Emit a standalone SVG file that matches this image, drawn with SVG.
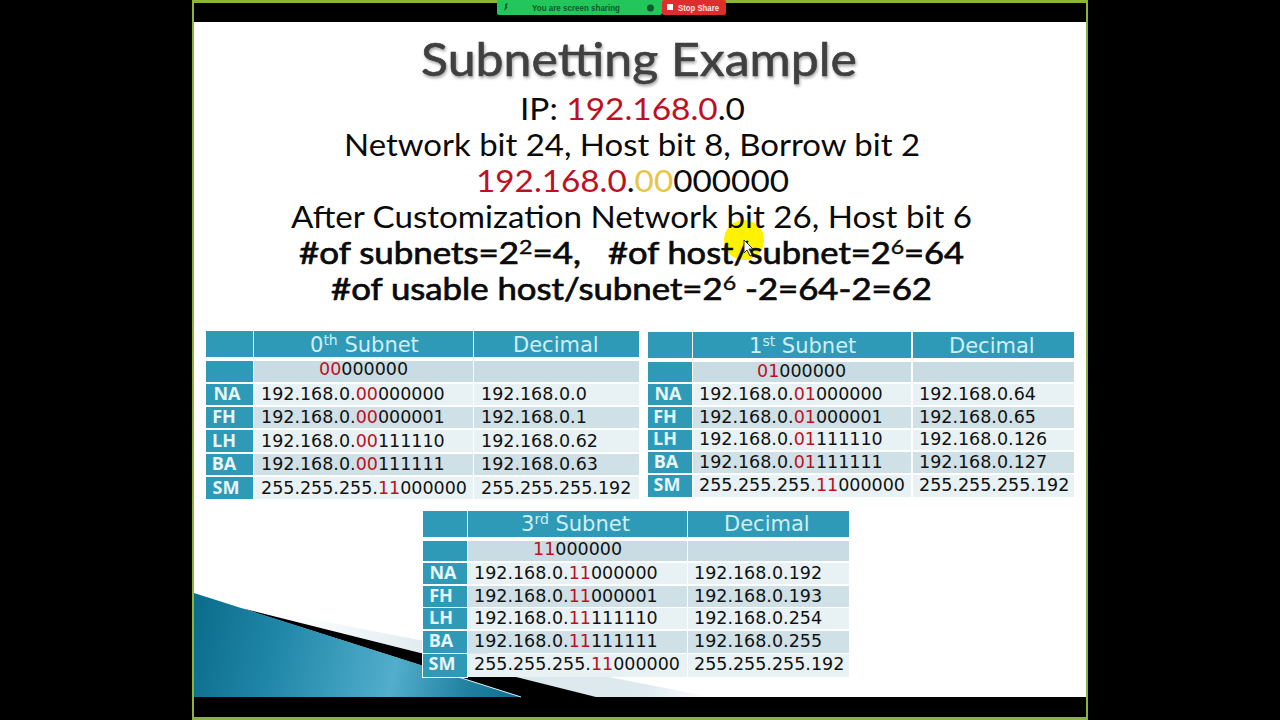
<svg xmlns="http://www.w3.org/2000/svg" width="1280" height="720" viewBox="0 0 1280 720">
<defs>
<style>
.ln{font-family:Lato,"Open Sans",sans-serif;font-size:30px;fill:#0a0a0a}
.b{stroke:#0a0a0a;stroke-width:0.7px}
.r{fill:#c00f1e}
.y{fill:#e9c546}
.hd{fill:#2f9ab8}
.s{fill:#c9dce3}
.a{fill:#e8f1f4}
.c{fill:#cfe0e6}
.t{font-family:"DejaVu Sans",sans-serif;font-size:17.5px;fill:#111}
.h{font-family:"DejaVu Sans",sans-serif;font-size:21px;fill:#cfeef5}
.l{font-family:"Open Sans","DejaVu Sans",sans-serif;font-size:18px;font-weight:700;fill:#e6f6fa;text-anchor:middle}
.sup{font-size:14px}
.sup2{font-size:20px;stroke-width:0.4px}
.z{font-family:"Liberation Sans",sans-serif;font-size:9px;font-weight:700}
</style>
<linearGradient id="blue" gradientUnits="userSpaceOnUse" x1="194" y1="620" x2="520" y2="690">
<stop offset="0" stop-color="#0c6d8c"/>
<stop offset="0.25" stop-color="#1f86a8"/>
<stop offset="0.62" stop-color="#52aecb"/>
<stop offset="0.85" stop-color="#1f7f9f"/>
<stop offset="1" stop-color="#0f6f8e"/>
</linearGradient>
<linearGradient id="pale" gradientUnits="userSpaceOnUse" x1="290" y1="620" x2="711" y2="697">
<stop offset="0" stop-color="#ffffff"/>
<stop offset="0.4" stop-color="#d9e7ec"/>
<stop offset="0.85" stop-color="#dfeaee"/>
<stop offset="1" stop-color="#ffffff"/>
</linearGradient>
<filter id="shadow" x="-5%" y="-20%" width="110%" height="150%">
<feDropShadow dx="1" dy="2" stdDeviation="1.5" flood-color="#000" flood-opacity="0.35"/>
</filter>
</defs>

<rect width="1280" height="720" fill="#000"/>
<rect x="192" y="0" width="896" height="720" fill="#8db43a"/>
<rect x="194" y="3" width="892" height="714" fill="#000"/>
<rect x="194" y="22" width="892" height="675" fill="#fff"/>

<g id="corner">
<polygon points="240,605 711,697 500,697" fill="url(#pale)"/>
<polygon points="241,608 596,697 521,697" fill="#000"/>
<polygon points="194,593 521,697 194,697" fill="url(#blue)"/>
<line x1="430" y1="668" x2="521" y2="697" stroke="#d5ebf1" stroke-width="1"/>
</g>

<g id="banner">
<rect x="497" y="0" width="165" height="15" rx="2" fill="#22c65a"/>
<rect x="662" y="0" width="64" height="15" rx="2" fill="#df2c2c"/>
<path d="M505 4 L508 3 L506.500 7 L508 7 L504 11 L505 7.500 Z" fill="#0d5a2a"/>
<text class="z" x="532" y="11" fill="#0e5a2c" textLength="88" lengthAdjust="spacingAndGlyphs">You are screen sharing</text>
<circle cx="650.500" cy="8" r="3.500" fill="#0d5a2a"/>
<rect x="667" y="4" width="6" height="6" fill="#fff"/>
<text class="z" x="678" y="11" fill="#ffe6e6" textLength="41" lengthAdjust="spacingAndGlyphs">Stop Share</text>
</g>

<g id="highlight"><circle cx="744" cy="240" r="20" fill="#fff200"/></g>

<g id="heading">
<text x="421" y="76" font-family="Lato,'Open Sans',sans-serif" font-size="46" fill="#404040" stroke="#404040" stroke-width="0.6" filter="url(#shadow)" textLength="436" lengthAdjust="spacingAndGlyphs">Subnetting Example</text>
<text class="ln" x="520" y="120" textLength="225" lengthAdjust="spacingAndGlyphs">IP: <tspan class="r">192.168.0</tspan>.0</text>
<text class="ln" x="344" y="156" textLength="576" lengthAdjust="spacingAndGlyphs">Network bit 24, Host bit 8, Borrow bit 2</text>
<text class="ln" x="476" y="192" textLength="313" lengthAdjust="spacingAndGlyphs"><tspan class="r">192.168.0</tspan>.<tspan class="y">00</tspan>000000</text>
<text class="ln" x="291" y="228" textLength="681" lengthAdjust="spacingAndGlyphs">After Customization Network bit 26, Host bit 6</text>
<text class="ln b" x="299" y="264" textLength="282" lengthAdjust="spacingAndGlyphs">#of subnets=2<tspan class="sup2" dy="-10">2</tspan><tspan dy="10">=4,</tspan></text>
<text class="ln b" x="608" y="264" textLength="356" lengthAdjust="spacingAndGlyphs">#of host/subnet=2<tspan class="sup2" dy="-10">6</tspan><tspan dy="10">=64</tspan></text>
<text class="ln b" x="331" y="300" textLength="601" lengthAdjust="spacingAndGlyphs">#of usable host/subnet=2<tspan class="sup2" dy="-10">6</tspan><tspan dy="10"> -2=64-2=62</tspan></text>
</g>

<g id="cursor"><path d="M744 240 L744 253 L747 250 L750 256 L752 255 L749 249 L753 249 Z" fill="#fff" stroke="#333" stroke-width="1"/></g>

<g id="table-0">
<rect class="hd" x="206" y="331" width="47" height="26"/><rect class="hd" x="254" y="331" width="219" height="26"/><rect class="hd" x="474" y="331" width="165" height="26"/>
<rect class="hd" x="206" y="361" width="47" height="21"/><rect class="s" x="254" y="361" width="219" height="21"/><rect class="s" x="474" y="361" width="165" height="21"/>
<rect class="hd" x="206" y="384" width="47" height="21"/><rect class="a" x="254" y="384" width="219" height="21"/><rect class="a" x="474" y="384" width="165" height="21"/>
<rect class="hd" x="206" y="407" width="47" height="21"/><rect class="c" x="254" y="407" width="219" height="21"/><rect class="c" x="474" y="407" width="165" height="21"/>
<rect class="hd" x="206" y="430" width="47" height="22"/><rect class="a" x="254" y="430" width="219" height="22"/><rect class="a" x="474" y="430" width="165" height="22"/>
<rect class="hd" x="206" y="454" width="47" height="21"/><rect class="c" x="254" y="454" width="219" height="21"/><rect class="c" x="474" y="454" width="165" height="21"/>
<rect class="hd" x="206" y="477" width="47" height="22"/><rect class="a" x="254" y="477" width="219" height="22"/><rect class="a" x="474" y="477" width="165" height="22"/>
<text class="h" x="310" y="352">0<tspan class="sup" dy="-7">th</tspan><tspan dy="7"> Subnet</tspan></text>
<text class="h" x="513" y="352">Decimal</text>
<text class="t" x="319" y="375"><tspan class="r">00</tspan>000000</text>
<text class="l" x="227" y="400">NA</text><text class="t" x="261" y="400">192.168.0.<tspan class="r">00</tspan>000000</text><text class="t" x="481" y="400">192.168.0.0</text>
<text class="l" x="224" y="423">FH</text><text class="t" x="261" y="423">192.168.0.<tspan class="r">00</tspan>000001</text><text class="t" x="481" y="423">192.168.0.1</text>
<text class="l" x="224" y="447">LH</text><text class="t" x="261" y="447">192.168.0.<tspan class="r">00</tspan>111110</text><text class="t" x="481" y="447">192.168.0.62</text>
<text class="l" x="224" y="470">BA</text><text class="t" x="261" y="470">192.168.0.<tspan class="r">00</tspan>111111</text><text class="t" x="481" y="470">192.168.0.63</text>
<text class="l" x="226" y="494">SM</text><text class="t" x="261" y="494">255.255.255.<tspan class="r">11</tspan>000000</text><text class="t" x="481" y="494">255.255.255.192</text>
</g>

<g id="table-1">
<rect class="hd" x="648" y="332" width="44" height="26"/><rect class="hd" x="693" y="332" width="218" height="26"/><rect class="hd" x="913" y="332" width="161" height="26"/>
<rect class="hd" x="648" y="362" width="44" height="20"/><rect class="s" x="693" y="362" width="218" height="20"/><rect class="s" x="913" y="362" width="161" height="20"/>
<rect class="hd" x="648" y="384" width="44" height="21"/><rect class="a" x="693" y="384" width="218" height="21"/><rect class="a" x="913" y="384" width="161" height="21"/>
<rect class="hd" x="648" y="407" width="44" height="21"/><rect class="c" x="693" y="407" width="218" height="21"/><rect class="c" x="913" y="407" width="161" height="21"/>
<rect class="hd" x="648" y="430" width="44" height="20"/><rect class="a" x="693" y="430" width="218" height="20"/><rect class="a" x="913" y="430" width="161" height="20"/>
<rect class="hd" x="648" y="452" width="44" height="21"/><rect class="c" x="693" y="452" width="218" height="21"/><rect class="c" x="913" y="452" width="161" height="21"/>
<rect class="hd" x="648" y="475" width="44" height="22"/><rect class="a" x="693" y="475" width="218" height="22"/><rect class="a" x="913" y="475" width="161" height="22"/>
<text class="h" x="749" y="353">1<tspan class="sup" dy="-7">st</tspan><tspan dy="7"> Subnet</tspan></text>
<text class="h" x="949" y="353">Decimal</text>
<text class="t" x="757" y="377"><tspan class="r">01</tspan>000000</text>
<text class="l" x="668" y="400">NA</text><text class="t" x="699" y="400">192.168.0.<tspan class="r">01</tspan>000000</text><text class="t" x="919" y="400">192.168.0.64</text>
<text class="l" x="665" y="423">FH</text><text class="t" x="699" y="423">192.168.0.<tspan class="r">01</tspan>000001</text><text class="t" x="919" y="423">192.168.0.65</text>
<text class="l" x="665" y="445">LH</text><text class="t" x="699" y="445">192.168.0.<tspan class="r">01</tspan>111110</text><text class="t" x="919" y="445">192.168.0.126</text>
<text class="l" x="666" y="468">BA</text><text class="t" x="699" y="468">192.168.0.<tspan class="r">01</tspan>111111</text><text class="t" x="919" y="468">192.168.0.127</text>
<text class="l" x="667" y="491">SM</text><text class="t" x="699" y="491">255.255.255.<tspan class="r">11</tspan>000000</text><text class="t" x="919" y="491">255.255.255.192</text>
</g>

<g id="table-2">
<rect x="422" y="510" width="46" height="168" fill="#fff"/>
<rect class="hd" x="423" y="511" width="44" height="26"/><rect class="hd" x="468" y="511" width="219" height="26"/><rect class="hd" x="688" y="511" width="161" height="26"/>
<rect class="hd" x="423" y="541" width="44" height="20"/><rect class="s" x="468" y="541" width="219" height="20"/><rect class="s" x="688" y="541" width="161" height="20"/>
<rect class="hd" x="423" y="563" width="44" height="21"/><rect class="a" x="468" y="563" width="219" height="21"/><rect class="a" x="688" y="563" width="161" height="21"/>
<rect class="hd" x="423" y="586" width="44" height="21"/><rect class="c" x="468" y="586" width="219" height="21"/><rect class="c" x="688" y="586" width="161" height="21"/>
<rect class="hd" x="423" y="608" width="44" height="21"/><rect class="a" x="468" y="608" width="219" height="21"/><rect class="a" x="688" y="608" width="161" height="21"/>
<rect class="hd" x="423" y="631" width="44" height="22"/><rect class="c" x="468" y="631" width="219" height="22"/><rect class="c" x="688" y="631" width="161" height="22"/>
<rect class="hd" x="423" y="654" width="44" height="23"/><rect class="a" x="468" y="654" width="219" height="23"/><rect class="a" x="688" y="654" width="161" height="23"/>
<text class="h" x="521" y="531">3<tspan class="sup" dy="-7">rd</tspan><tspan dy="7"> Subnet</tspan></text>
<text class="h" x="724" y="531">Decimal</text>
<text class="t" x="533" y="555"><tspan class="r">11</tspan>000000</text>
<text class="l" x="443" y="579">NA</text><text class="t" x="474" y="579">192.168.0.<tspan class="r">11</tspan>000000</text><text class="t" x="694" y="579">192.168.0.192</text>
<text class="l" x="441" y="602">FH</text><text class="t" x="474" y="602">192.168.0.<tspan class="r">11</tspan>000001</text><text class="t" x="694" y="602">192.168.0.193</text>
<text class="l" x="441" y="624">LH</text><text class="t" x="474" y="624">192.168.0.<tspan class="r">11</tspan>111110</text><text class="t" x="694" y="624">192.168.0.254</text>
<text class="l" x="441" y="647">BA</text><text class="t" x="474" y="647">192.168.0.<tspan class="r">11</tspan>111111</text><text class="t" x="694" y="647">192.168.0.255</text>
<text class="l" x="442" y="670">SM</text><text class="t" x="474" y="670">255.255.255.<tspan class="r">11</tspan>000000</text><text class="t" x="694" y="670">255.255.255.192</text>
</g>
</svg>
